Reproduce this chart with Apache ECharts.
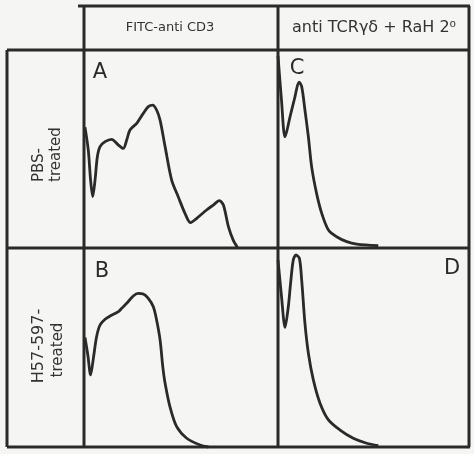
<!DOCTYPE html>
<html>
<head>
<meta charset="utf-8">
<script src="https://cdn.jsdelivr.net/npm/echarts@6/dist/echarts.min.js"></script>
<style>
  html, body { margin: 0; padding: 0; background: #f5f5f3; }
  #chart { width: 474px; height: 454px; }
</style>
</head>
<body>
<div id="chart"></div>
<script>
// column / row headings and panel letters
var colHeaders = ['FITC-anti CD3', 'anti TCR\u03b3\u03b4 + RaH 2\u2070'];
var rowLabels = [['PBS-', 'treated'], ['H57-597-', 'treated']];
var panelLetters = ['A', 'C', 'B', 'D'];

// histograms: [fluorescence channel (0-100), relative cell number (0-100)]
var histA = [
  [0, 61], [1.7, 49.5], [2.9, 34.3], [4.0, 25.9], [5.2, 34.3], [6.4, 46.1], [7.8, 51.2],
  [10.4, 53.7], [13.8, 54.9], [17.3, 52.0], [19.8, 50.3], [21.6, 54.5], [23.3, 59.6],
  [26.8, 63.0], [30.2, 68.0], [32.8, 71.4], [35.1, 72.2], [37.1, 69.7], [38.9, 64.6],
  [41.5, 51.2], [44.9, 34.3], [48.3, 25.9], [51.8, 17.5], [54.7, 12.8], [57.9, 15.0],
  [63.0, 19.2], [66.5, 21.7], [69.6, 23.9], [71.7, 21.7], [74.3, 10.8], [76.8, 4.0], [79.0, 0.3]
];
var histB = [
  [0, 55], [1.5, 46], [2.9, 36.2], [4.4, 45], [6.0, 55.4], [7.8, 61.3], [10.4, 64.2],
  [13.0, 65.8], [17.3, 68.0], [19.0, 69.7], [21.6, 72.2], [25.0, 75.9], [27.6, 77.2],
  [30.2, 76.9], [32.8, 74.7], [35.4, 70.5], [37.1, 63.8], [38.9, 53.8], [40.3, 40.4],
  [41.5, 32.0], [44.0, 20.3], [47.5, 10.2], [52.7, 4.4], [59.6, 1.0], [63.9, 0]
];
var histC = [
  [0, 97], [1.8, 75], [3.7, 56.1], [6.3, 66.3], [8.8, 76], [11.0, 83.8], [12.4, 81.5],
  [14.1, 69.7], [15.9, 56.2], [17.6, 41.1], [20.2, 27.6], [22.9, 17.5], [26.4, 9.1],
  [30.7, 5.7], [36.0, 3.2], [41.2, 2.0], [52.5, 1.2]
];
var histD = [
  [0, 94], [1.8, 76], [3.7, 60.1], [5.4, 70.5], [6.6, 82.3], [8.0, 94.0], [9.4, 96.5],
  [11.2, 94.8], [12.4, 83.9], [14.1, 62.2], [15.9, 47.1], [18.5, 33.7], [22.0, 22.0],
  [26.4, 13.6], [32.5, 8.5], [39.4, 4.4], [46.4, 1.9], [52.5, 0.7]
];

var chart = echarts.init(document.getElementById('chart'));

var ink = '#2a2a2a';
var grids = [
  { left: 85, top: 50, width: 193, height: 198 },
  { left: 278, top: 50, width: 191, height: 198 },
  { left: 85, top: 248, width: 193, height: 199 },
  { left: 278, top: 248, width: 191, height: 199 }
];
var hists = [histA, histC, histB, histD];

function frameLine(x1, y1, x2, y2) {
  return {
    type: 'line', z: 100,
    shape: { x1: x1, y1: y1, x2: x2, y2: y2 },
    style: { stroke: ink, lineWidth: 3 }
  };
}

// text element; size in px, align in the text's own frame
function label(text, x, y, size, align, rotation, color) {
  return {
    type: 'text', z: 101, x: x, y: y, rotation: rotation || 0,
    style: {
      text: text, fill: color || '#333', font: size + 'px "DejaVu Sans"',
      align: align || 'center', verticalAlign: 'middle'
    }
  };
}

var up = Math.PI / 2;
var graphics = [
  // table frame
  frameLine(78, 6, 470, 6),
  frameLine(7, 50, 470, 50),
  frameLine(7, 248, 470, 248),
  frameLine(7, 447, 470, 447),
  frameLine(7, 50, 7, 447),
  frameLine(84, 6, 84, 447),
  frameLine(278, 6, 278, 447),
  frameLine(469, 6, 469, 447),
  // headers
  label(colHeaders[0], 170, 28, 13),
  label(colHeaders[1], 374, 28, 16),
  // row labels, reading bottom to top
  label(rowLabels[0][0], 39, 182, 15, 'left', up),
  label(rowLabels[0][1], 56, 182, 15, 'left', up),
  label(rowLabels[1][0], 39, 346, 16, 'center', up),
  label(rowLabels[1][1], 58, 350, 15, 'center', up),
  // panel letters
  label(panelLetters[0], 100, 73, 21, 'center', 0, ink),
  label(panelLetters[1], 297, 69, 21, 'center', 0, ink),
  label(panelLetters[2], 102, 272, 21, 'center', 0, ink),
  label(panelLetters[3], 452, 269, 21, 'center', 0, ink)
];

chart.setOption({
  backgroundColor: '#f5f5f3',
  animation: false,
  grid: grids,
  xAxis: grids.map(function (g, i) {
    return { type: 'value', gridIndex: i, min: 0, max: 100, show: false };
  }),
  yAxis: grids.map(function (g, i) {
    return { type: 'value', gridIndex: i, min: 0, max: 100, show: false };
  }),
  series: hists.map(function (h, i) {
    return {
      type: 'line', xAxisIndex: i, yAxisIndex: i, data: h,
      smooth: 0.3, showSymbol: false, clip: false,
      lineStyle: { color: ink, width: 2.8 }
    };
  }),
  graphic: graphics
});
</script>
</body>
</html>
